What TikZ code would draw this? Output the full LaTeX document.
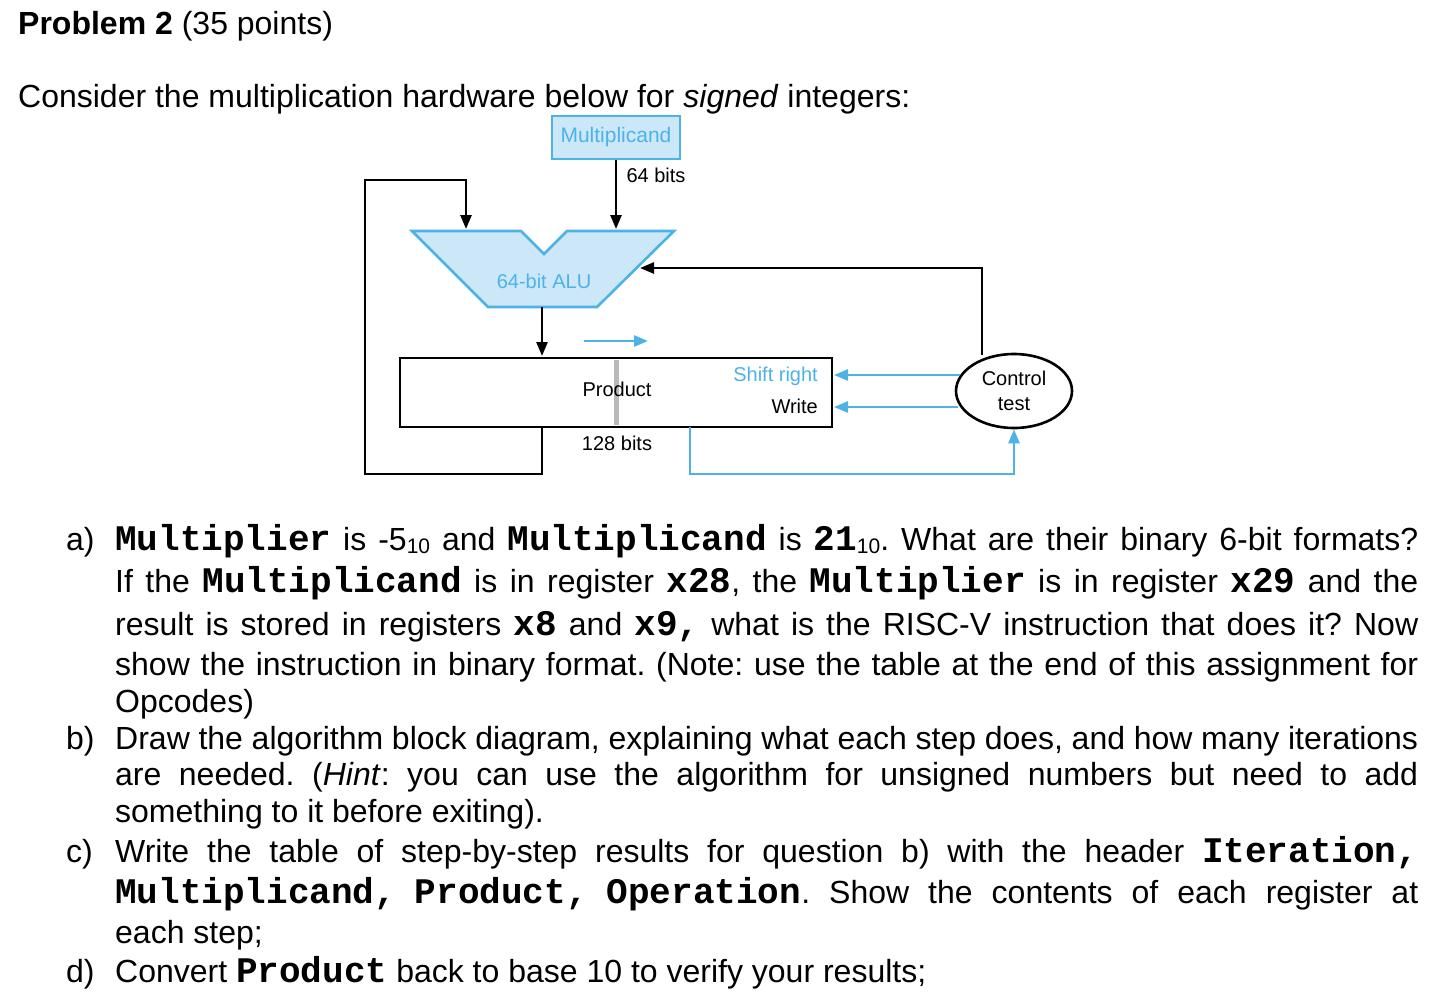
\documentclass[tikz,border=0pt]{standalone}
\usepackage{fontspec}
\setmainfont{Liberation Sans}
\newfontfamily\monofam{Liberation Mono}
\usetikzlibrary{arrows.meta,shapes.geometric}
\definecolor{lb}{HTML}{CCE8F8}
\definecolor{bl}{HTML}{4DB3E6}
\newcommand{\mn}[1]{{\monofam\bfseries\fontsize{36}{38}\selectfont #1}}
\newcommand{\sbt}[1]{{\fontsize{21}{22}\selectfont\raisebox{-3pt}{#1}}}
\frenchspacing
\begin{document}
\begin{tikzpicture}[x=1pt,y=-1pt,
  txt/.style={anchor=base west,inner sep=0pt,font=\fontsize{32}{36}\selectfont},
  lbl/.style={inner sep=0pt,font=\fontsize{20}{22}\selectfont},
  blk/.style={line width=2.6pt},
  blu/.style={line width=2.6pt,draw=bl},
  arr/.style={-{Triangle[length=14pt,width=11pt]}}]
\useasboundingbox (0,0) rectangle (1448,1002);
\node[txt] (h) at (18,34) {\textbf{Problem 2} (35 points)};
\node[txt] (c) at (18,107) {Consider the multiplication hardware below for \textit{signed} integers:};
% diagram
\node[draw=bl,fill=lb,line width=2.6pt,minimum width=128pt,minimum height=43pt,inner sep=0pt,text=bl,font=\fontsize{21}{22}\selectfont] (mc) at (616,137.5) {Multiplicand};
\draw[blu,fill=lb] (412,231) -- (521,231) -- (544,254) -- (567,231) -- (674,231) -- (597,307) -- (488,307) -- cycle;
\node[lbl,text=bl] (alu) at (544,281) {64-bit ALU};
\node[draw,blk,minimum width=432pt,minimum height=69pt,inner sep=0pt] (prod) at (616,392.5) {};
\fill[gray!55] (613.5,360) rectangle (618.5,425);
\node[lbl] (pl) at (617,389) {Product};
\node[lbl,text=bl,anchor=east] (sr) at (818,376) {Shift right};
\node[lbl,anchor=east] (wr) at (818,406) {Write};
\node[lbl] (b128) at (617,443) {128 bits};
\node[lbl] (b64) at (656,175) {64 bits};
\node[draw,blk,ellipse,minimum width=116pt,minimum height=74pt,inner sep=0pt,font=\fontsize{20}{25}\selectfont,align=center] (ct) at (1014,391) {Control\\test};
\coordinate (aluin1) at (466,229);
\coordinate (aluin2) at (616,229);
\coordinate (alur) at (640,268);
\coordinate (pin) at (542,356);
\draw[blk,arr] (mc.south) -- (aluin2);
\draw[blk,arr] (542,427) -- (542,474) -- (365,474) -- (365,180) -- (466,180) -- (aluin1);
\draw[blk,arr] (542,307) -- (pin);
\draw[blu,arr,color=bl] (584,341) -- (648,341);
\draw[blk,arr] (982,355) -- (982,268) -- (alur);
\draw[blu,arr,color=bl] (960,375) -- (834,375);
\draw[blu,arr,color=bl] (958,407) -- (834,407);
\draw[blu,arr,color=bl] (690,427) -- (690,474) -- (1014,474) -- (ct.south);
% questions
\def\W{\makebox[1303pt][s]}
\node[txt] (la) at (66,550) {a)};
\node[txt] (a1) at (115,550) {\W{\mn{Multiplier} is -5\sbt{10} and \mn{Multiplicand} is \mn{21}\sbt{10}. What are their binary 6-bit formats?}};
\node[txt] (a2) at (115,592) {\W{If the \mn{Multiplicand} is in register \mn{x28}, the \mn{Multiplier} is in register \mn{x29} and the}};
\node[txt] (a3) at (115,635) {\W{result is stored in registers \mn{x8} and \mn{x9,} what is the RISC-V instruction that does it? Now}};
\node[txt] (a4) at (115,675) {\W{show the instruction in binary format. (Note: use the table at the end of this assignment for}};
\node[txt] (a5) at (115,712) {Opcodes)};
\node[txt] (lb) at (66,749) {b)};
\node[txt] (b1) at (115,749) {\W{Draw the algorithm block diagram, explaining what each step does, and how many iterations}};
\node[txt] (b2) at (115,785) {\W{are needed. (\textit{Hint}: you can use the algorithm for unsigned numbers but need to add}};
\node[txt] (b3) at (115,822) {something to it before exiting).};
\node[txt] (lc) at (66,862) {c)};
\node[txt] (c1) at (115,862) {\W{Write the table of step-by-step results for question b) with the header \mn{Iteration,}}};
\node[txt] (c2) at (115,903) {\W{\mn{Multiplicand,} \mn{Product,} \mn{Operation}. Show the contents of each register at}};
\node[txt] (c3) at (115,943) {each step;};
\node[txt] (ld) at (66,982) {d)};
\node[txt] (d1) at (115,982) {Convert \mn{Product} back to base 10 to verify your results;};
\end{tikzpicture}
\end{document}
